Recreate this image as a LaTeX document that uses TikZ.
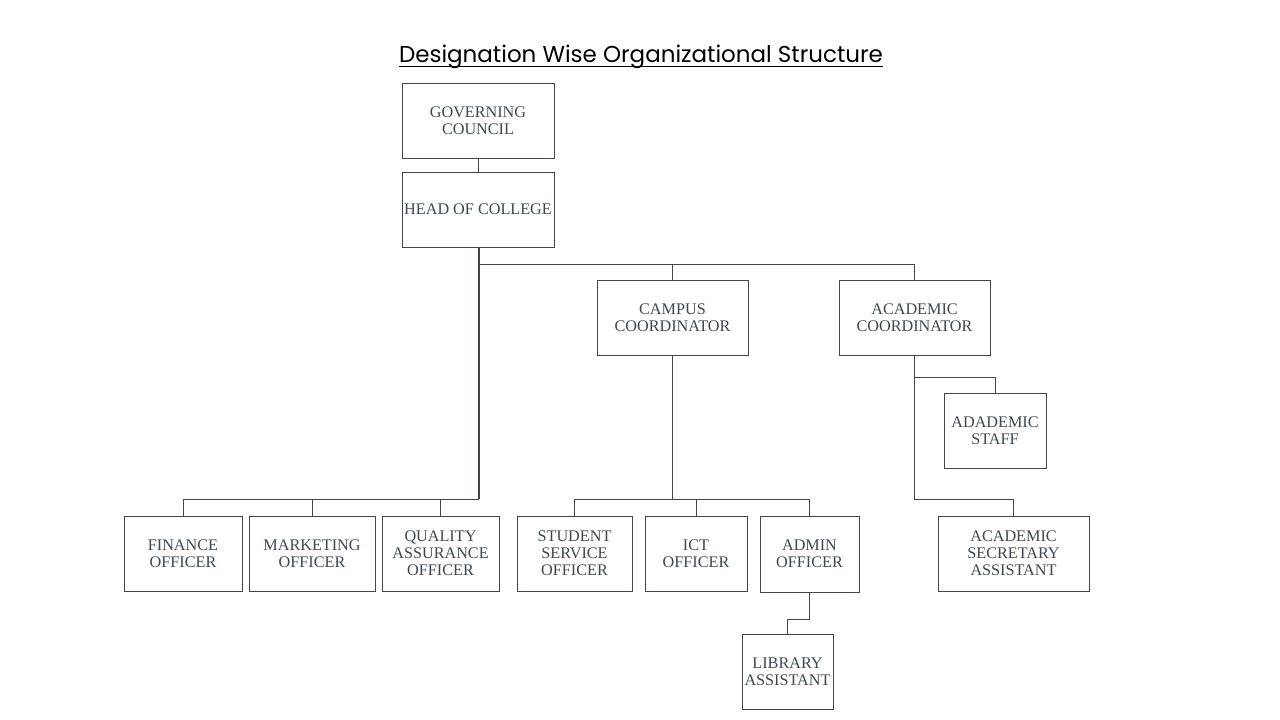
\documentclass[tikz,border=0pt]{standalone}
\usepackage{fontspec}
\setmainfont{Liberation Serif}
\newfontfamily\titlefont{Poppins}
\usepackage{graphicx}
\definecolor{txt}{HTML}{3F4756}
\definecolor{ln}{HTML}{404550}
\begin{document}
\begin{tikzpicture}[x=1pt,y=-1pt,
  box/.style={draw=ln, line width=0.9pt, align=center, inner sep=0pt, text=txt,
    font=\fontsize{16.2}{17}\selectfont},
  conn/.style={draw=ln, line width=0.9pt}]
\useasboundingbox (0,0) rectangle (1280,720);
\fill[white] (0,0) rectangle (1280,720);
\node[anchor=base, inner sep=0pt] (title) at (641,62) {\resizebox{484pt}{!}{\titlefont Designation Wise Organizational Structure}};
\draw[line width=1pt] (title.south west |- 0,66) -- (title.south east |- 0,66);
\node[box, minimum width=152pt, minimum height=75pt] (gc) at (478,120.5) {GOVERNING\\COUNCIL};
\node[box, minimum width=152pt, minimum height=75pt] (hoc) at (478,209.5) {HEAD OF COLLEGE};
\node[box, minimum width=151pt, minimum height=75pt] (cc) at (672.5,317.5) {CAMPUS\\COORDINATOR};
\node[box, minimum width=151pt, minimum height=75pt] (ac) at (914.5,317.5) {ACADEMIC\\COORDINATOR};
\node[box, minimum width=118pt, minimum height=75pt] (fo) at (183,553.5) {FINANCE\\OFFICER};
\node[box, minimum width=126pt, minimum height=75pt] (mo) at (312,553.5) {MARKETING\\OFFICER};
\node[box, minimum width=117pt, minimum height=75pt] (qao) at (440.5,553.5) {QUALITY\\ASSURANCE\\OFFICER};
\node[box, minimum width=115pt, minimum height=75pt] (sso) at (574.5,553.5) {STUDENT\\SERVICE\\OFFICER};
\node[box, minimum width=102pt, minimum height=75pt] (ict) at (696,553.5) {ICT\\OFFICER};
\node[box, minimum width=99pt, minimum height=76pt] (ao) at (809.5,554) {ADMIN\\OFFICER};
\node[box, minimum width=91pt, minimum height=75pt] (la) at (787.5,671.5) {LIBRARY\\ASSISTANT};
\node[box, minimum width=102pt, minimum height=75pt] (as) at (995,430.5) {ADADEMIC\\STAFF};
\node[box, minimum width=151pt, minimum height=75pt] (asa) at (1013.5,553.5) {ACADEMIC\\SECRETARY\\ASSISTANT};
% connectors
\draw[conn] (gc.south) -- (hoc.north);
\draw[conn] (hoc.south) |- (914.5,264) -- (ac.north);
\draw[conn] (672.5,264) -- (cc.north);
\draw[conn, line width=1.6pt] (479,247) -- (479,499);
\draw[conn] (479,499) -| (fo.north);
\draw[conn] (mo.north) -- (312,499);
\draw[conn] (qao.north) -- (440.5,499);
\draw[conn] (cc.south) -- (672.5,499);
\draw[conn] (sso.north) |- (809.5,499) -- (ao.north);
\draw[conn] (ict.north) -- (696,499);
\draw[conn] (ao.south) -- (809.5,619) -| (la.north);
\draw[conn] (ac.south) -- (914.5,499) -| (asa.north);
\draw[conn] (914.5,377) -| (as.north);
\end{tikzpicture}
\end{document}
